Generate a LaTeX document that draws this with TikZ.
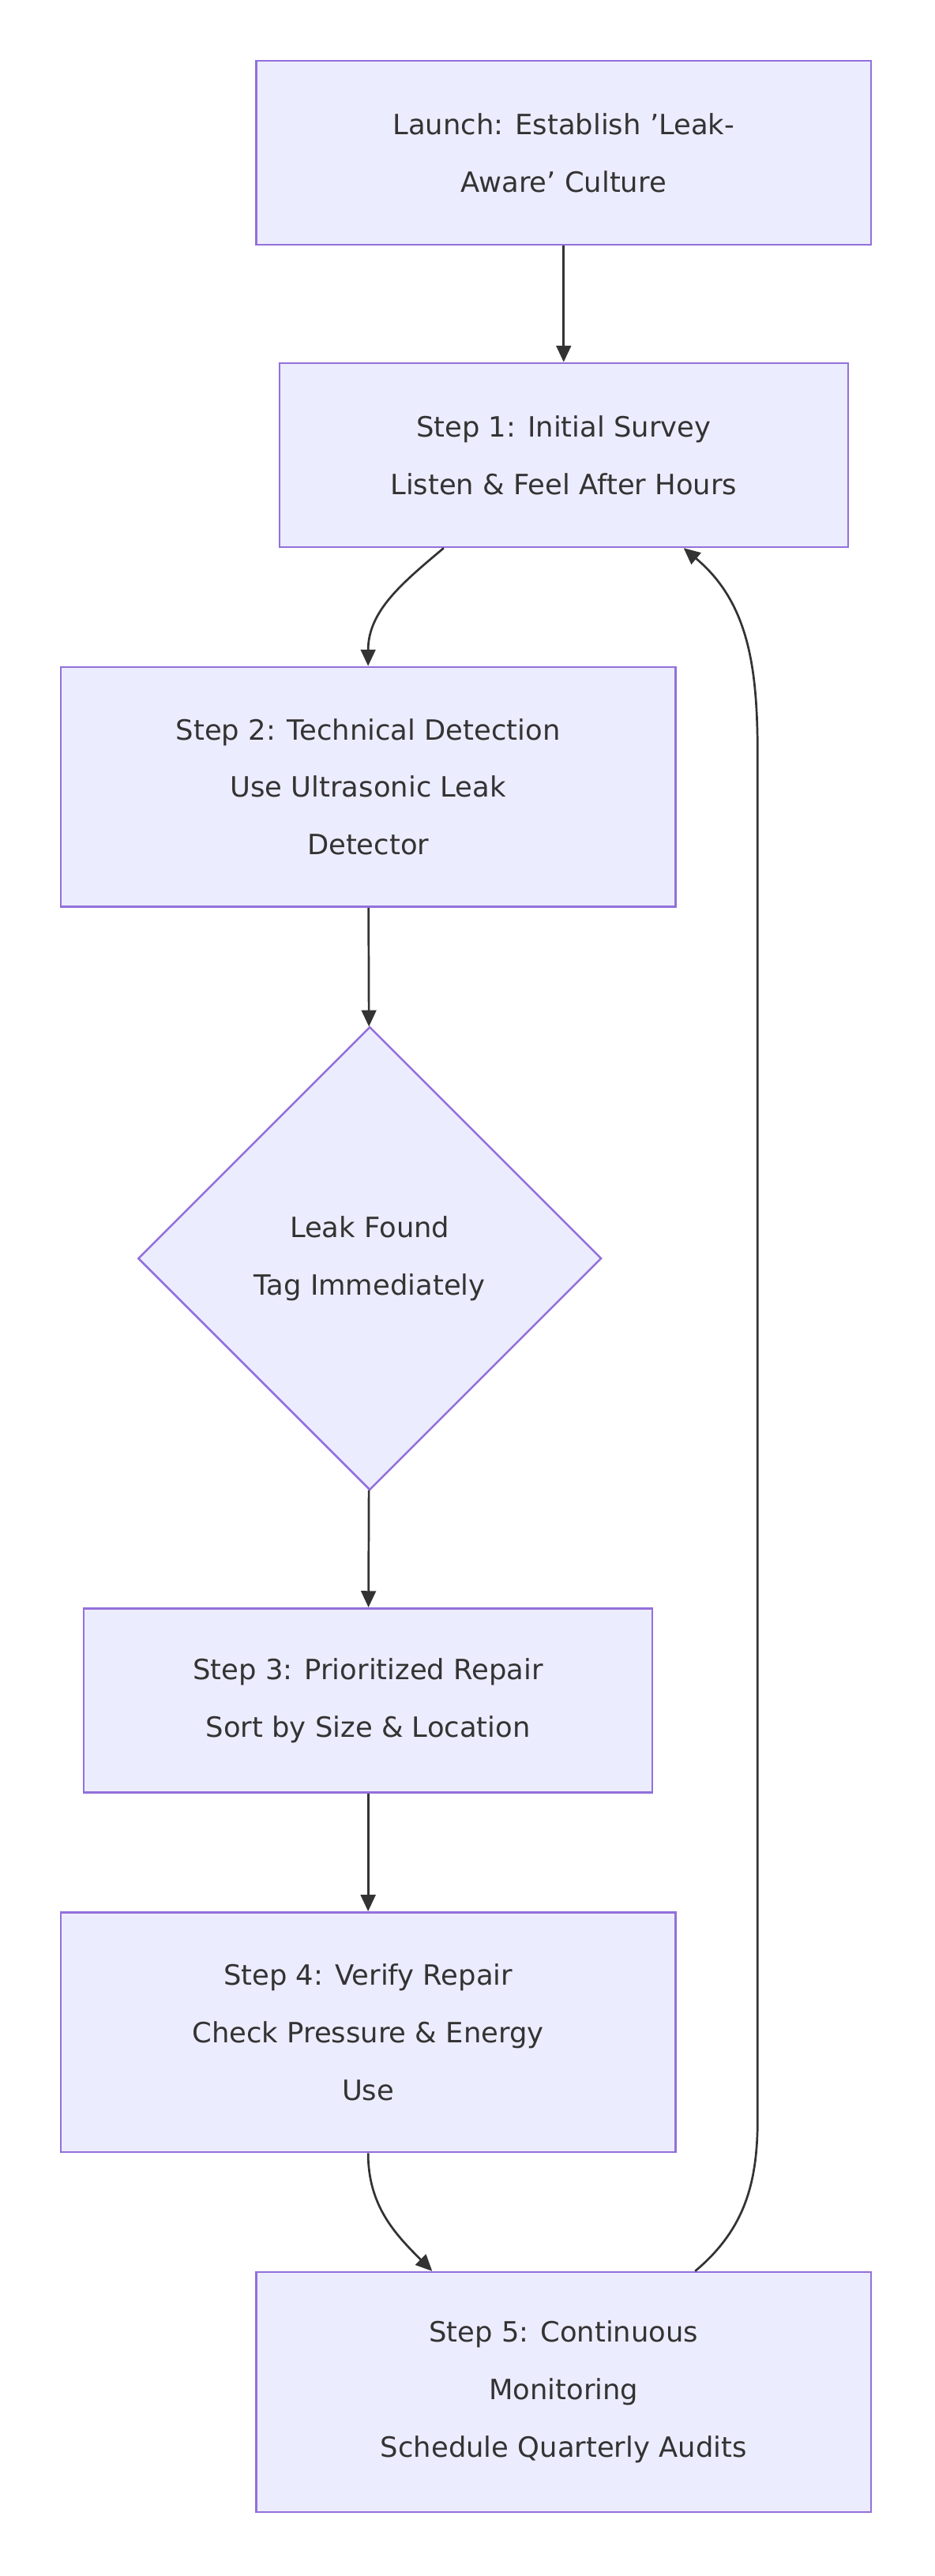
\documentclass[tikz,border=0pt]{standalone}
\usepackage{fontspec}
\setmainfont{DejaVu Sans}
\usetikzlibrary{arrows.meta,shapes.geometric}
\definecolor{boxfill}{HTML}{ECECFF}
\definecolor{boxline}{HTML}{9370DB}
\definecolor{arrowc}{HTML}{333333}
\begin{document}
\begin{tikzpicture}[x=1pt,y=-1pt,
  every node/.style={font=\fontsize{17}{35}\selectfont, text=arrowc, align=center},
  stage/.style={draw=boxline, fill=boxfill, line width=1.2pt, shape=rectangle, inner sep=0pt},
  flow/.style={draw=arrowc, line width=1.3pt, -{Triangle[length=10pt,width=9pt]}}]
  \useasboundingbox (0,0) rectangle (568.5,1568);
  \node (launch) [stage, minimum width=374pt, minimum height=112pt] at (343,93) {Launch: Establish 'Leak-\\Aware' Culture};
  \node (s1) [stage, minimum width=346pt, minimum height=112pt] at (343,277) {Step 1: Initial Survey\\Listen \& Feel After Hours};
  \node (s2) [stage, minimum width=374pt, minimum height=146pt] at (224,479) {Step 2: Technical Detection\\Use Ultrasonic Leak\\Detector};
  \node (leak) [draw=boxline, fill=boxfill, line width=1.2pt, shape=diamond, minimum width=282pt, minimum height=282pt, inner sep=0pt] at (225,766) {Leak Found\\Tag Immediately};
  \node (s3) [stage, minimum width=346pt, minimum height=112pt] at (224,1035) {Step 3: Prioritized Repair\\Sort by Size \& Location};
  \node (s4) [stage, minimum width=374pt, minimum height=146pt] at (224,1237) {Step 4: Verify Repair\\Check Pressure \& Energy\\Use};
  \node (s5) [stage, minimum width=374pt, minimum height=146pt] at (343,1456) {Step 5: Continuous\\Monitoring\\Schedule Quarterly Audits};
  % connectors
  \draw[flow] (launch) -- (s1);
  \draw[flow] ([xshift=-73pt]s1.south) to[out=-140,in=90] (s2.north);
  \draw[flow] (s2) -- (leak);
  \draw[flow] (leak) -- (s3);
  \draw[flow] (s3) -- (s4);
  \draw[flow] (s4.south) to[out=-90,in=135] ([xshift=-80pt]s5.north);
  \draw[flow] ([xshift=80pt]s5.north) to[out=40,in=-90] (461,1290) -- (461,460) to[out=90,in=-40] ([xshift=73pt]s1.south);
\end{tikzpicture}
\end{document}
